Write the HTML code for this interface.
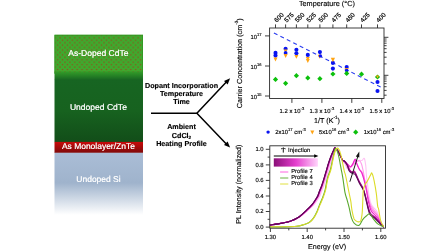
<!DOCTYPE html>
<html><head><meta charset="utf-8"><title>Graphical abstract</title>
<style>
html,body{margin:0;padding:0;background:#fff;}
body{width:448px;height:252px;overflow:hidden;font-family:"Liberation Sans",sans-serif;}
svg{display:block;}
text{font-family:"Liberation Sans",sans-serif;text-rendering:geometricPrecision;}
</style></head><body>
<svg width="448" height="252" viewBox="0 0 448 252">
<defs>
<pattern id="dots" x="55.2" y="37.7" width="4.88" height="4.9" patternUnits="userSpaceOnUse">
<rect x="0" y="0" width="4.88" height="4.9" fill="#3eaa2e"/>
<circle cx="0" cy="0" r="0.82" fill="#875a1c"/><circle cx="4.88" cy="0" r="0.82" fill="#875a1c"/>
<circle cx="0" cy="4.9" r="0.82" fill="#875a1c"/><circle cx="4.88" cy="4.9" r="0.82" fill="#875a1c"/>
<circle cx="2.44" cy="2.45" r="0.82" fill="#875a1c"/>
</pattern>
<linearGradient id="gfade" x1="0" y1="0" x2="0" y2="1">
<stop offset="0" stop-color="#2f9427" stop-opacity="0"/><stop offset="0.25" stop-color="#2f9427" stop-opacity="1"/><stop offset="1" stop-color="#176522"/>
</linearGradient>
<linearGradient id="gdark" x1="0" y1="0" x2="0" y2="1">
<stop offset="0" stop-color="#176522"/><stop offset="0.5" stop-color="#17621f"/><stop offset="1" stop-color="#124d19"/>
</linearGradient>
<linearGradient id="gred" x1="0" y1="0" x2="0" y2="1">
<stop offset="0" stop-color="#c80a0a"/><stop offset="1" stop-color="#7e0a0a"/>
</linearGradient>
<linearGradient id="gsi" x1="0" y1="0" x2="0" y2="1">
<stop offset="0" stop-color="#aabdd6"/><stop offset="0.47" stop-color="#9fb3cc"/><stop offset="0.97" stop-color="#ffffff"/>
</linearGradient>
<linearGradient id="gbar" x1="0" y1="0" x2="1" y2="0">
<stop offset="0" stop-color="#8a0f78"/><stop offset="0.5" stop-color="#e53fce"/><stop offset="1" stop-color="#ffd4fb"/>
</linearGradient>
<filter id="glow" x="-10%" y="-30%" width="120%" height="160%"><feGaussianBlur stdDeviation="0.5"/></filter>
</defs>

<g>
<rect x="54.5" y="34.8" width="88.5" height="38.8" fill="url(#dots)"/>
<rect x="54.9" y="35.2" width="87.7" height="38" fill="none" stroke="#2f9a22" stroke-width="0.8"/>
<rect x="54.5" y="70.5" width="88.5" height="9.5" fill="url(#gfade)"/>
<rect x="54.5" y="79.8" width="88.5" height="62.4" fill="url(#gdark)"/>
<rect x="54.5" y="141.9" width="88.5" height="11" fill="url(#gred)"/>
<rect x="54.5" y="152.8" width="88.5" height="64" fill="url(#gsi)"/>
<text x="98.4" y="56.2" font-size="8.55" text-anchor="middle" fill="#fff" opacity="0.55" filter="url(#glow)">As-Doped CdTe</text>
<text x="98.4" y="56.2" font-size="8.55" text-anchor="middle" fill="#fff" fill-opacity="0.96" stroke="#fff" stroke-width="0.08">As-Doped CdTe</text>
<text x="98.4" y="109.6" font-size="8.55" text-anchor="middle" fill="#fff" opacity="0.55" filter="url(#glow)">Undoped CdTe</text>
<text x="98.4" y="109.6" font-size="8.55" text-anchor="middle" fill="#fff" fill-opacity="0.96" stroke="#fff" stroke-width="0.08">Undoped CdTe</text>
<text x="98.4" y="148.9" font-size="8.47" text-anchor="middle" fill="#fff" opacity="0.55" filter="url(#glow)">As Monolayer/ZnTe</text>
<text x="98.4" y="148.9" font-size="8.47" text-anchor="middle" fill="#fff" fill-opacity="0.96" stroke="#fff" stroke-width="0.08">As Monolayer/ZnTe</text>
<text x="98.5" y="181.8" font-size="8.48" text-anchor="middle" fill="#fff" opacity="0.55" filter="url(#glow)">Undoped Si</text>
<text x="98.5" y="181.8" font-size="8.48" text-anchor="middle" fill="#fff" fill-opacity="0.96" stroke="#fff" stroke-width="0.08">Undoped Si</text>
</g>
<g font-weight="bold" font-size="7.2" stroke="#000" stroke-width="0.15" text-anchor="middle" fill="#000">
<text x="181.5" y="87.6">Dopant Incorporation</text>
<text x="181.5" y="95.9">Temperature</text>
<text x="181.5" y="104.3">Time</text>
<text x="181.5" y="129">Ambient</text>
<text x="181.5" y="137.6">CdCl<tspan font-size="4.6" dy="1.3">2</tspan></text>
<text x="181.5" y="146.1">Heating Profile</text>
</g>
<g stroke="#000" stroke-width="1.5" fill="none" stroke-linecap="butt" stroke-linejoin="miter">
<path d="M151 113.3H196.9"/>
<path d="M226.8 81.5L196.9 113.3L226.8 144.4"/>
</g>
<path d="M230.1 78.2 L227.7 84.4 L224.0 81.0 Z" fill="#000"/>
<path d="M230.1 147.6 L224.0 144.9 L227.6 141.4 Z" fill="#000"/>
<g stroke="#2a2a2a" stroke-width="0.9" fill="none">
<rect x="269.6" y="28.0" width="114.4" height="70.5"/>
<path d="M275.5 28.0V24.4M285.6 28.0V24.4M296.4 28.0V24.4M307.8 28.0V24.4M319.9 28.0V24.4M332.9 28.0V24.4M346.7 28.0V24.4M361.5 28.0V24.4M377.5 28.0V24.4M291.9 98.5V102.9M321.9 98.5V102.9M351.8 98.5V102.9M381.8 98.5V102.9M269.6 35.9H265.0M269.6 66.0H265.0M269.6 96.0H265.0M384.0 37.3H388.4M384.0 63.9H386.6M384.0 57.2H386.6M384.0 52.4H386.6M384.0 48.7H386.6M384.0 45.7H386.6M384.0 43.2H386.6M384.0 41.0H386.6M384.0 39.0H386.6M384.0 75.3H388.4M384.0 95.2H386.6M384.0 90.4H386.6M384.0 86.7H386.6M384.0 83.7H386.6M384.0 81.2H386.6M384.0 79.0H386.6M384.0 77.0H386.6"/>
</g>
<g font-size="5.9" fill="#000" stroke="#000" stroke-width="0.13">
<text transform="translate(276.7 22.7) rotate(-45)" x="0" y="0" font-size="6.3" stroke-width="0.2">600</text>
<text transform="translate(286.8 22.7) rotate(-45)" x="0" y="0" font-size="6.3" stroke-width="0.2">575</text>
<text transform="translate(297.6 22.7) rotate(-45)" x="0" y="0" font-size="6.3" stroke-width="0.2">550</text>
<text transform="translate(309.0 22.7) rotate(-45)" x="0" y="0" font-size="6.3" stroke-width="0.2">525</text>
<text transform="translate(321.1 22.7) rotate(-45)" x="0" y="0" font-size="6.3" stroke-width="0.2">500</text>
<text transform="translate(334.1 22.7) rotate(-45)" x="0" y="0" font-size="6.3" stroke-width="0.2">475</text>
<text transform="translate(347.9 22.7) rotate(-45)" x="0" y="0" font-size="6.3" stroke-width="0.2">450</text>
<text transform="translate(362.7 22.7) rotate(-45)" x="0" y="0" font-size="6.3" stroke-width="0.2">425</text>
<text transform="translate(378.7 22.7) rotate(-45)" x="0" y="0" font-size="6.3" stroke-width="0.2">400</text>
<text x="291.9" y="112.7" text-anchor="middle">1.2 x 10<tspan font-size="4.1" dy="-3.0">-3</tspan></text>
<text x="321.9" y="112.7" text-anchor="middle">1.3 x 10<tspan font-size="4.1" dy="-3.0">-3</tspan></text>
<text x="351.8" y="112.7" text-anchor="middle">1.4 x 10<tspan font-size="4.1" dy="-3.0">-3</tspan></text>
<text x="381.8" y="112.7" text-anchor="middle">1.5 x 10<tspan font-size="4.1" dy="-3.0">-3</tspan></text>
<text x="261.5" y="38.8" text-anchor="end">10<tspan font-size="4.1" dy="-3.0">17</tspan></text>
<text x="261.5" y="68.9" text-anchor="end">10<tspan font-size="4.1" dy="-3.0">16</tspan></text>
<text x="261.5" y="98.9" text-anchor="end">10<tspan font-size="4.1" dy="-3.0">15</tspan></text>
</g>
<text x="326.9" y="6.3" font-size="7.3" text-anchor="middle" fill="#000" stroke="#000" stroke-width="0.13">Temperature (°C)</text>
<text x="327" y="122.8" font-size="7.15" text-anchor="middle" fill="#000" stroke="#000" stroke-width="0.13">1/T (K<tspan font-size="4.6" dy="-3.6">-1</tspan><tspan dy="3.6">)</tspan></text>
<text transform="translate(241.8 108.2) rotate(-90)" font-size="7.25" fill="#000" stroke="#000" stroke-width="0.13">Carrier Concentration (cm<tspan font-size="4.6" dy="-3.6">-3</tspan><tspan dy="3.6">)</tspan></text>
<path d="M273.9 32.9L381.8 87.6" stroke="#2a3cf0" stroke-width="1.1" stroke-dasharray="4.0 3.23" fill="none"/>
<circle cx="275.5" cy="52.9" r="2.05" fill="#0a14f0"/>
<circle cx="275.5" cy="55.6" r="2.05" fill="#0a14f0"/>
<path d="M273.5 57.6L277.5 57.6L275.5 61.6Z" fill="#ffa414"/>
<circle cx="285.6" cy="48.7" r="2.05" fill="#0a14f0"/>
<path d="M283.7 49.4L287.5 49.4L285.6 52.6Z" fill="#ffa414"/>
<circle cx="285.6" cy="52.9" r="1.90" fill="#0a14f0"/>
<path d="M283.6 54.0L287.6 54.0L285.6 58.0Z" fill="#ffa414"/>
<circle cx="296.4" cy="49.8" r="2.05" fill="#0a14f0"/>
<circle cx="296.4" cy="53.3" r="2.05" fill="#0a14f0"/>
<path d="M294.4 55.0L298.4 55.0L296.4 58.7Z" fill="#ffa414"/>
<circle cx="307.8" cy="54.9" r="2.05" fill="#0a14f0"/>
<path d="M305.8 56.9L309.8 56.9L307.8 60.8Z" fill="#ffa414"/>
<path d="M305.8 59.0L309.8 59.0L307.8 62.9Z" fill="#ffa414"/>
<circle cx="319.9" cy="52.1" r="2.05" fill="#0a14f0"/>
<path d="M317.6 54.8L321.6 54.8L319.6 58.8Z" fill="#ffa414"/>
<circle cx="320.4" cy="55.9" r="1.70" fill="#0a14f0"/>
<circle cx="332.9" cy="62.9" r="2.05" fill="#0a14f0"/>
<circle cx="332.9" cy="68.6" r="2.05" fill="#0a14f0"/>
<path d="M330.8 57.8L335.0 57.8L332.9 62.2Z" fill="#ffa414"/>
<circle cx="346.7" cy="67.1" r="2.05" fill="#0a14f0"/>
<path d="M344.7 68.1L348.7 68.1L346.7 72.0Z" fill="#ffa414"/>
<circle cx="346.7" cy="70.6" r="1.80" fill="#0a14f0"/>
<circle cx="377.5" cy="82.0" r="2.05" fill="#0a14f0"/>
<circle cx="377.5" cy="91.0" r="2.05" fill="#0a14f0"/>
<path d="M272.9 79.4L275.5 76.8L278.1 79.4L275.5 82.0Z" fill="#0cc00c"/>
<path d="M283.0 83.3L285.6 80.7L288.2 83.3L285.6 85.9Z" fill="#0cc00c"/>
<path d="M293.8 75.7L296.4 73.1L299.0 75.7L296.4 78.3Z" fill="#0cc00c"/>
<path d="M305.2 77.9L307.8 75.3L310.4 77.9L307.8 80.5Z" fill="#0cc00c"/>
<path d="M317.3 78.7L319.9 76.1L322.5 78.7L319.9 81.3Z" fill="#0cc00c"/>
<path d="M330.3 74.0L332.9 71.4L335.5 74.0L332.9 76.6Z" fill="#0cc00c"/>
<path d="M344.1 73.4L346.7 70.8L349.3 73.4L346.7 76.0Z" fill="#0cc00c"/>
<path d="M358.9 74.2L361.5 71.6L364.1 74.2L361.5 76.8Z" fill="#0cc00c"/>
<path d="M374.9 77.0L377.5 74.4L380.1 77.0L377.5 79.6Z" fill="#0cc00c"/>
<path d="M376.0 75.6L379.0 75.6L377.5 78.5Z" fill="#ffa414"/>
<circle cx="268.1" cy="132.1" r="1.70" fill="#0a14f0"/>
<path d="M310.3 130.6L314.3 130.6L312.3 134.4Z" fill="#ffa414"/>
<path d="M353.1 132.2L355.7 129.6L358.3 132.2L355.7 134.8Z" fill="#0cc00c"/>
<g font-size="5.9" fill="#000" stroke="#000" stroke-width="0.13">
<text x="275.3" y="133.6">2x10<tspan font-size="4.1" dy="-3.0">17</tspan><tspan dy="3.0"> cm</tspan><tspan font-size="4.1" dy="-3.0">-3</tspan></text>
<text x="318.9" y="133.6">5x10<tspan font-size="4.1" dy="-3.0">16</tspan><tspan dy="3.0"> cm</tspan><tspan font-size="4.1" dy="-3.0">-3</tspan></text>
<text x="363.7" y="133.6">1x10<tspan font-size="4.1" dy="-3.0">16</tspan><tspan dy="3.0"> cm</tspan><tspan font-size="4.1" dy="-3.0">-3</tspan></text>
</g>
<g fill="none" stroke-width="1.1" stroke-linejoin="round" stroke-linecap="round">
<path d="M270.1 225.0C272.1 224.7 278.8 223.8 282.3 223.1C285.8 222.4 288.3 222.1 291.3 221.0C294.3 219.9 297.5 218.5 300.3 216.7C303.1 214.9 305.7 212.3 308.0 210.3C310.3 208.3 312.4 206.4 314.0 204.6C315.6 202.8 316.6 201.1 317.6 199.7C318.6 198.3 319.2 197.5 319.9 196.0C320.6 194.5 321.2 192.2 321.9 190.5C322.6 188.8 323.2 187.5 323.9 185.5C324.6 183.5 325.4 180.8 326.2 178.3C326.9 175.9 327.6 173.5 328.4 170.8C329.2 168.1 330.1 164.9 331.0 162.2C331.9 159.5 333.2 156.8 333.7 154.7C334.2 152.6 333.8 150.5 334.0 149.4C334.2 148.3 334.6 147.7 335.2 147.9C335.8 148.1 336.8 149.3 337.7 150.6C338.6 151.9 339.6 154.2 340.4 155.8C341.2 157.4 341.6 158.7 342.5 160.1C343.4 161.5 344.7 163.1 345.5 164.5C346.3 165.9 346.7 168.3 347.5 168.8C348.3 169.3 349.2 168.5 350.5 167.5C351.8 166.5 353.5 164.2 355.0 163.0C356.5 161.8 358.3 160.7 359.5 160.3C360.7 159.9 361.2 160.8 362.0 160.5C362.8 160.2 363.7 157.5 364.3 158.4C364.9 159.3 365.4 163.1 365.8 166.0C366.2 168.9 365.9 171.0 366.5 176.0C367.1 181.0 368.3 191.2 369.1 196.0C369.9 200.8 370.3 202.4 371.3 204.6C372.3 206.8 373.8 207.5 374.9 208.9C376.0 210.3 376.8 211.0 377.7 213.1C378.6 215.2 379.7 219.4 380.6 221.7C381.6 223.9 382.9 225.8 383.4 226.6" stroke="#ffc4f4"/>
<path d="M270.1 225.0C272.1 224.7 278.8 223.8 282.3 223.1C285.8 222.4 288.2 222.1 291.1 221.0C294.0 219.9 297.2 218.5 299.9 216.7C302.6 214.9 305.1 212.3 307.3 210.3C309.5 208.3 311.6 206.4 313.2 204.6C314.8 202.8 315.7 201.1 316.7 199.7C317.7 198.3 318.3 197.5 319.0 196.0C319.7 194.5 320.3 192.2 321.0 190.5C321.7 188.8 322.3 187.5 323.0 185.5C323.7 183.5 324.6 180.8 325.3 178.3C326.1 175.9 326.7 173.5 327.5 170.8C328.3 168.1 329.2 164.9 330.1 162.2C331.0 159.5 332.2 156.8 332.8 154.7C333.4 152.6 333.6 150.5 334.0 149.4C334.4 148.3 334.6 147.7 335.2 147.9C335.8 148.1 336.8 149.3 337.7 150.6C338.6 151.9 339.6 154.2 340.4 155.8C341.2 157.4 341.6 158.7 342.5 160.1C343.4 161.5 344.6 162.6 345.5 164.0C346.4 165.4 346.9 168.0 347.8 168.5C348.7 169.0 349.6 167.9 351.0 166.8C352.4 165.7 354.6 163.0 356.0 162.0C357.4 161.0 358.5 160.4 359.4 160.7C360.3 161.0 360.8 162.1 361.5 164.0C362.2 165.9 362.7 168.7 363.4 172.0C364.1 175.3 364.7 179.8 365.5 184.0C366.3 188.2 367.2 193.5 368.0 197.0C368.8 200.5 369.5 202.8 370.5 205.0C371.5 207.2 372.9 208.4 374.0 210.0C375.1 211.6 376.2 212.5 377.3 214.5C378.4 216.5 379.3 219.9 380.3 221.9C381.3 223.9 382.9 225.8 383.4 226.6" stroke="#ff9dea"/>
<path d="M270.1 225.0C272.1 224.7 278.8 223.8 282.3 223.1C285.8 222.4 288.1 222.1 291.0 221.0C293.9 219.9 296.9 218.5 299.6 216.7C302.2 214.9 304.7 212.3 306.9 210.3C309.1 208.3 311.1 206.4 312.7 204.6C314.2 202.8 315.1 201.1 316.1 199.7C317.1 198.3 317.7 197.5 318.4 196.0C319.1 194.5 319.7 192.2 320.4 190.5C321.1 188.8 321.7 187.5 322.4 185.5C323.1 183.5 323.9 180.8 324.7 178.3C325.4 175.9 326.1 173.5 326.9 170.8C327.7 168.1 328.6 164.9 329.5 162.2C330.4 159.5 331.4 156.8 332.2 154.7C332.9 152.6 333.5 150.5 334.0 149.4C334.5 148.3 334.6 147.7 335.2 147.9C335.8 148.1 336.8 149.3 337.7 150.6C338.6 151.9 339.6 154.2 340.4 155.8C341.2 157.4 341.7 159.1 342.5 160.1C343.3 161.1 344.2 161.1 345.2 162.0C346.2 162.9 347.5 164.7 348.4 165.5C349.3 166.3 349.8 167.2 350.6 167.0C351.4 166.8 352.2 165.2 353.0 164.0C353.8 162.8 354.6 159.6 355.3 159.6C356.0 159.6 356.3 162.3 357.0 163.9C357.7 165.5 358.6 168.0 359.4 169.3C360.2 170.6 360.9 170.3 361.6 171.6C362.3 172.8 362.9 174.2 363.7 176.8C364.5 179.4 365.5 183.3 366.3 187.0C367.1 190.7 367.8 195.5 368.6 199.0C369.4 202.5 370.0 205.8 371.0 208.0C372.0 210.2 373.4 211.2 374.5 212.5C375.6 213.8 376.5 214.3 377.5 216.0C378.5 217.7 379.5 220.7 380.5 222.5C381.5 224.3 382.9 226.0 383.4 226.7" stroke="#ff6fe0"/>
<path d="M270.1 225.0C272.1 224.7 278.8 223.8 282.3 223.1C285.8 222.4 288.0 222.1 290.9 221.0C293.8 219.9 296.8 218.5 299.4 216.7C302.0 214.9 304.5 212.3 306.6 210.3C308.8 208.3 310.8 206.4 312.3 204.6C313.8 202.8 314.8 201.1 315.7 199.7C316.6 198.3 317.3 197.5 318.0 196.0C318.7 194.5 319.3 192.2 320.0 190.5C320.7 188.8 321.3 187.5 322.0 185.5C322.7 183.5 323.6 180.8 324.3 178.3C325.1 175.9 325.7 173.5 326.5 170.8C327.3 168.1 328.2 164.9 329.1 162.2C330.0 159.5 331.0 156.8 331.8 154.7C332.6 152.6 333.4 150.5 334.0 149.4C334.6 148.3 334.6 147.7 335.2 147.9C335.8 148.1 336.8 149.3 337.7 150.6C338.6 151.9 339.6 154.2 340.4 155.8C341.2 157.4 341.7 159.1 342.5 160.1C343.3 161.1 344.2 160.9 345.2 161.7C346.2 162.5 347.5 164.1 348.4 164.9C349.3 165.7 349.8 166.9 350.6 166.7C351.4 166.5 352.2 164.8 353.0 163.5C353.8 162.2 354.5 159.0 355.1 159.1C355.7 159.2 356.1 162.2 356.8 163.9C357.5 165.6 358.6 168.0 359.4 169.5C360.2 171.0 361.0 171.2 361.8 173.0C362.6 174.8 363.2 177.2 364.0 180.0C364.8 182.8 365.6 186.3 366.3 190.0C367.1 193.7 367.7 198.6 368.5 202.0C369.3 205.4 369.9 208.3 371.0 210.5C372.1 212.7 373.7 213.7 374.9 215.0C376.1 216.3 377.0 217.2 378.0 218.5C379.0 219.8 379.9 221.6 380.8 223.0C381.7 224.4 383.0 226.1 383.4 226.7" stroke="#ee22cc"/>
<path d="M270.1 225.0C272.1 224.7 278.8 223.8 282.3 223.1C285.8 222.4 288.0 222.1 290.9 221.0C293.8 219.9 296.8 218.5 299.4 216.7C302.0 214.9 304.5 212.3 306.6 210.3C308.8 208.3 310.8 206.4 312.3 204.6C313.8 202.8 314.8 201.1 315.7 199.7C316.6 198.3 317.3 197.5 318.0 196.0C318.7 194.5 319.3 192.2 320.0 190.5C320.7 188.8 321.3 187.5 322.0 185.5C322.7 183.5 323.6 180.8 324.3 178.3C325.1 175.9 325.7 173.5 326.5 170.8C327.3 168.1 328.2 164.9 329.1 162.2C330.0 159.5 331.0 156.8 331.8 154.7C332.6 152.6 333.4 150.5 334.0 149.4C334.6 148.3 334.6 147.7 335.2 147.9C335.8 148.1 336.8 149.3 337.7 150.6C338.6 151.9 339.6 154.2 340.4 155.8C341.2 157.4 341.8 159.2 342.5 160.1C343.2 161.0 343.9 160.5 344.8 161.3C345.7 162.2 346.8 163.8 347.6 165.2C348.4 166.6 348.8 168.4 349.5 169.5C350.2 170.6 351.2 171.8 352.0 172.0C352.8 172.2 353.4 170.7 354.1 171.0C354.8 171.3 355.2 172.3 356.0 174.0C356.8 175.7 357.9 178.5 359.1 181.0C360.3 183.5 362.2 186.1 363.4 189.1C364.6 192.1 365.5 196.0 366.3 199.1C367.1 202.2 367.7 205.3 368.4 207.7C369.1 210.1 369.5 211.9 370.6 213.5C371.7 215.1 373.6 215.8 374.9 217.0C376.2 218.2 377.2 219.3 378.2 220.5C379.2 221.7 380.1 223.0 381.0 224.0C381.9 225.0 383.0 226.2 383.4 226.7" stroke="#c0109c"/>
<path d="M270.1 225.0C272.1 224.7 278.8 223.8 282.3 223.1C285.8 222.4 288.0 222.1 290.9 221.0C293.7 219.9 296.7 218.5 299.3 216.7C301.9 214.9 304.3 212.3 306.5 210.3C308.6 208.3 310.6 206.4 312.1 204.6C313.6 202.8 314.6 201.1 315.5 199.7C316.4 198.3 317.1 197.5 317.8 196.0C318.5 194.5 319.1 192.2 319.8 190.5C320.5 188.8 321.1 187.5 321.8 185.5C322.5 183.5 323.4 180.8 324.1 178.3C324.9 175.9 325.5 173.5 326.3 170.8C327.1 168.1 328.0 164.9 328.9 162.2C329.8 159.5 330.8 156.8 331.6 154.7C332.5 152.6 333.4 150.5 334.0 149.4C334.6 148.3 334.6 147.7 335.2 147.9C335.8 148.1 336.8 149.3 337.7 150.6C338.6 151.9 339.6 154.2 340.4 155.8C341.2 157.4 341.8 159.2 342.5 160.1C343.2 161.0 343.8 160.3 344.6 161.2C345.4 162.1 346.7 163.8 347.5 165.3C348.3 166.8 348.6 169.0 349.3 170.2C350.1 171.4 351.1 172.2 352.0 172.6C352.9 173.0 353.9 172.1 354.6 172.6C355.4 173.1 355.7 174.1 356.5 175.8C357.3 177.5 358.3 180.3 359.5 182.6C360.7 184.9 362.4 186.8 363.5 189.7C364.6 192.6 365.5 196.7 366.3 199.8C367.1 202.9 367.6 205.9 368.3 208.3C369.0 210.7 369.3 212.7 370.4 214.2C371.5 215.7 373.4 216.4 374.7 217.5C376.0 218.6 377.1 219.9 378.1 221.0C379.2 222.1 380.1 223.3 381.0 224.3C381.9 225.3 383.0 226.4 383.4 226.8" stroke="#8c0a7a"/>
<path d="M270.1 225.0C272.1 224.7 278.8 223.8 282.3 223.1C285.8 222.4 288.0 222.1 290.8 221.0C293.7 219.9 296.7 218.5 299.3 216.7C301.8 214.9 304.3 212.3 306.4 210.3C308.5 208.3 310.5 206.4 312.0 204.6C313.5 202.8 314.5 201.1 315.4 199.7C316.3 198.3 317.0 197.5 317.7 196.0C318.4 194.5 319.0 192.2 319.7 190.5C320.4 188.8 321.0 187.5 321.7 185.5C322.4 183.5 323.2 180.8 324.0 178.3C324.8 175.9 325.4 173.5 326.2 170.8C327.0 168.1 327.9 164.9 328.8 162.2C329.7 159.5 330.6 156.8 331.5 154.7C332.4 152.6 333.4 150.5 334.0 149.4C334.6 148.3 334.6 147.7 335.2 147.9C335.8 148.1 336.8 149.3 337.7 150.6C338.6 151.9 339.6 154.2 340.4 155.8C341.2 157.4 341.8 159.2 342.5 160.1C343.2 161.0 343.6 160.3 344.4 161.2C345.2 162.1 346.5 163.9 347.3 165.5C348.1 167.1 348.3 169.5 349.1 170.8C349.9 172.1 350.9 172.7 351.9 173.3C352.9 173.9 354.1 173.5 354.9 174.2C355.7 174.9 356.0 175.8 356.8 177.4C357.6 179.0 358.7 181.8 359.8 184.0C360.9 186.2 362.5 187.8 363.6 190.6C364.7 193.4 365.4 197.7 366.2 200.8C367.0 203.9 367.5 206.8 368.2 209.2C368.9 211.6 369.2 213.5 370.3 215.0C371.4 216.5 373.3 217.1 374.6 218.2C375.9 219.3 376.9 220.6 378.0 221.7C379.1 222.8 380.1 223.8 381.0 224.6C381.9 225.4 383.0 226.4 383.4 226.8" stroke="#5e0a58"/>
<path d="M270.0 227.0C272.5 227.0 280.6 227.0 285.0 226.9C289.4 226.8 293.5 226.7 296.6 226.3C299.7 225.9 301.6 225.3 303.7 224.7C305.8 224.1 307.6 223.6 309.2 222.5C310.8 221.4 312.1 219.9 313.4 218.1C314.7 216.3 315.9 213.9 316.9 211.7C317.9 209.4 318.8 206.5 319.6 204.6C320.4 202.7 320.9 201.7 321.5 200.3C322.1 198.9 322.6 197.8 323.2 196.0C323.8 194.2 324.5 192.6 325.2 189.7C325.9 186.8 326.5 181.6 327.4 178.3C328.2 175.0 329.4 173.0 330.3 170.0C331.2 167.0 331.9 163.0 332.5 160.1C333.1 157.2 333.6 154.3 334.2 152.3C334.8 150.3 335.1 147.9 335.8 148.3C336.5 148.7 337.6 152.2 338.3 154.7C339.0 157.2 339.6 160.6 340.1 163.3C340.6 166.0 341.0 168.3 341.5 170.8C342.0 173.3 342.3 174.7 342.9 178.3C343.5 181.9 344.3 189.1 345.0 192.6C345.7 196.1 346.3 197.0 347.0 199.5C347.7 202.0 348.4 204.4 349.1 207.4C349.8 210.4 350.5 214.8 351.3 217.4C352.1 220.0 352.8 221.8 354.1 223.1C355.4 224.4 357.7 225.9 359.1 225.3C360.5 224.7 361.5 221.2 362.7 219.6C363.9 218.0 365.1 216.9 366.3 216.0C367.5 215.1 368.7 213.4 369.9 213.9C371.1 214.4 372.1 217.2 373.4 218.9C374.7 220.6 376.0 222.6 377.7 223.9C379.4 225.2 382.4 226.2 383.4 226.7" stroke="#5aa82e"/>
<path d="M270.0 226.9C272.5 226.9 280.6 226.9 285.0 226.8C289.4 226.7 293.5 226.6 296.6 226.2C299.7 225.8 301.6 225.2 303.7 224.6C305.8 224.0 307.7 223.5 309.4 222.4C311.1 221.3 312.4 219.9 313.7 218.1C315.0 216.3 316.2 213.9 317.3 211.7C318.4 209.4 319.3 206.5 320.1 204.6C320.9 202.7 321.4 201.7 322.0 200.3C322.6 198.9 323.1 197.8 323.7 196.0C324.3 194.2 325.0 192.6 325.7 189.7C326.4 186.8 327.0 181.6 327.9 178.3C328.8 175.0 330.0 173.0 330.8 170.0C331.6 167.0 332.2 163.2 332.9 160.1C333.6 157.0 334.2 153.7 335.0 151.7C335.8 149.7 336.6 148.0 337.5 148.1C338.4 148.2 339.4 150.2 340.1 152.2C340.9 154.2 341.3 157.0 342.0 160.1C342.7 163.2 343.6 168.2 344.2 170.8C344.8 173.5 345.0 172.8 345.7 176.0C346.4 179.2 347.7 185.9 348.5 190.0C349.3 194.1 350.1 197.3 350.7 200.7C351.3 204.1 351.4 207.3 352.0 210.3C352.6 213.3 353.2 217.0 354.1 218.9C355.1 220.8 356.6 221.3 357.7 221.7C358.8 222.0 359.9 222.2 360.6 221.0C361.3 219.8 361.6 217.6 362.0 214.6C362.4 211.6 362.5 207.1 362.7 203.1C362.9 199.1 362.9 193.5 363.3 190.5C363.7 187.5 364.2 186.6 364.9 184.9C365.6 183.2 366.8 182.3 367.7 180.6C368.6 178.9 369.9 176.1 370.6 174.9C371.3 173.7 371.4 172.2 372.0 173.2C372.6 174.1 373.4 177.2 374.1 180.6C374.8 184.0 375.7 189.1 376.3 193.4C376.9 197.7 377.3 203.7 377.7 206.3C378.1 208.9 378.1 206.7 378.6 209.0C379.1 211.3 379.8 217.4 380.6 220.3C381.4 223.2 382.9 225.2 383.4 226.2" stroke="#dcdc28"/>
</g>
<g stroke="#2a2a2a" stroke-width="0.9" fill="none">
<rect x="269.8" y="145.8" width="115.7" height="82.4"/>
<path d="M270.4 228.2V232.0M288.8 228.2V230.4M307.2 228.2V232.0M325.6 228.2V230.4M344.0 228.2V232.0M362.4 228.2V230.4M380.8 228.2V232.0M269.8 227.1H265.8M269.8 219.3H267.6M269.8 211.5H265.8M269.8 203.8H267.6M269.8 196.0H265.8M269.8 188.2H267.6M269.8 180.4H265.8M269.8 172.6H267.6M269.8 164.9H265.8M269.8 157.1H267.6M269.8 149.3H265.8"/>
</g>
<g font-size="5.9" fill="#000" stroke="#000" stroke-width="0.13">
<text x="270.4" y="239.4" text-anchor="middle">1.30</text>
<text x="307.2" y="239.4" text-anchor="middle">1.40</text>
<text x="344.0" y="239.4" text-anchor="middle">1.50</text>
<text x="380.8" y="239.4" text-anchor="middle">1.60</text>
<text x="263.6" y="228.9" text-anchor="end">0.0</text>
<text x="263.6" y="213.3" text-anchor="end">0.2</text>
<text x="263.6" y="197.8" text-anchor="end">0.4</text>
<text x="263.6" y="182.2" text-anchor="end">0.6</text>
<text x="263.6" y="166.7" text-anchor="end">0.8</text>
<text x="263.6" y="151.1" text-anchor="end">1.0</text>
</g>
<text x="327" y="249.1" font-size="7.15" text-anchor="middle" fill="#000" stroke="#000" stroke-width="0.13">Energy (eV)</text>
<text transform="translate(241.2 223.8) rotate(-90)" font-size="7.2" fill="#000" stroke="#000" stroke-width="0.13">PL Intensity (normalized)</text>
<text transform="translate(278.2 152.2) scale(1.87 1)" font-size="5.4" style="font-family:'Noto Sans CJK SC',sans-serif" fill="#000" stroke="#000" stroke-width="0.12">↑</text>
<text x="288.1" y="152.2" font-size="6.0" fill="#000" stroke="#000" stroke-width="0.13">Injection</text>
<path d="M273.8 156H315" stroke="#000" stroke-width="1.15" fill="none"/>
<path d="M318.4 156.0 L314.2 157.8 L314.2 154.2 Z" fill="#000"/>
<rect x="273.8" y="158.3" width="44.1" height="8.3" fill="url(#gbar)"/>
<g stroke-width="0.9" fill="none"><path d="M280.1 172H288.3" stroke="#ff50dc"/><path d="M280.1 178H288.3" stroke="#5aa82e"/><path d="M280.1 184H288.3" stroke="#dcdc28"/></g>
<g font-size="5.85" fill="#000" stroke="#000" stroke-width="0.13"><text x="291.2" y="173.2">Profile 7</text><text x="291.2" y="179.2">Profile 4</text><text x="291.2" y="185.2">Profile 3</text></g>
<path d="M349.9 181.7L358.0 155.8" stroke="#1a1a1a" stroke-width="1.0" fill="none"/>
<path d="M359.3 151.4 L359.3 157.5 L355.8 156.4 Z" fill="#111"/>
</svg></body></html>
